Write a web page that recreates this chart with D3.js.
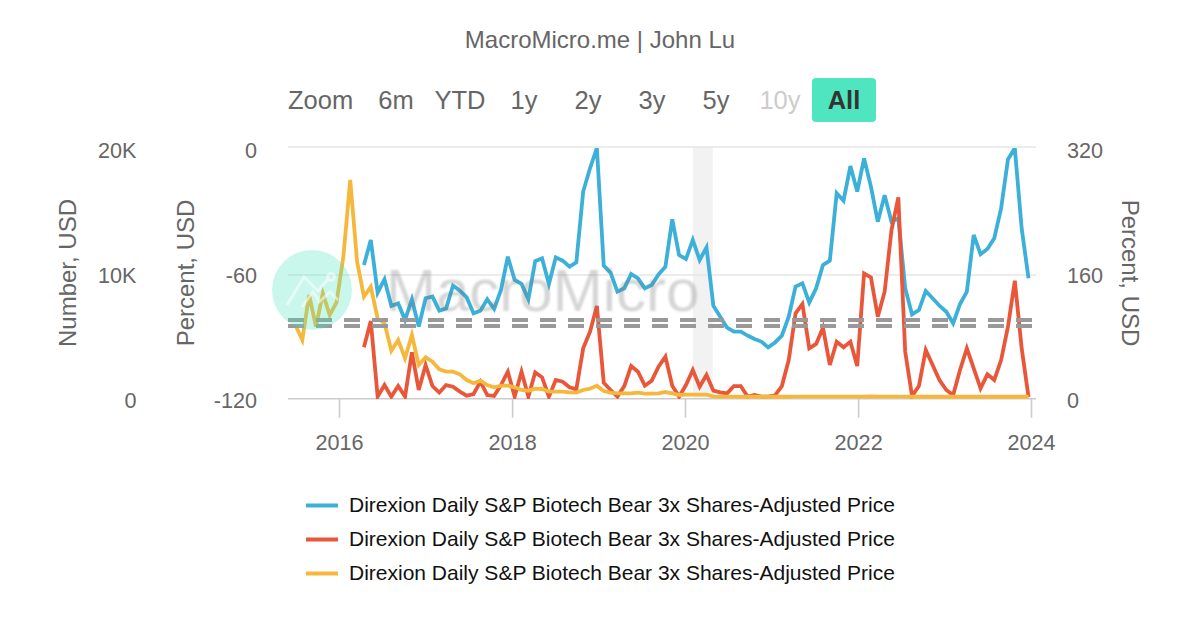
<!DOCTYPE html>
<html>
<head>
<meta charset="utf-8">
<script src="https://cdn.jsdelivr.net/npm/d3@7/dist/d3.min.js"></script>
<style>
html,body{margin:0;padding:0;background:#fff;}
svg{display:block;font-family:"Liberation Sans",Arial,sans-serif;}
</style>
</head>
<body>
<svg id="c" width="1200" height="630"></svg>
<script>
const titleText = "MacroMicro.me | John Lu";
const legendName = "Direxion Daily S&P Biotech Bear 3x Shares-Adjusted Price";
const buttons = ["6m","YTD","1y","2y","3y","5y","10y","All"];
const firstDate = new Date(2015,6,1);
const stepDays = 28.93;
const blueOffset = 10;   // blue and red start this many samples after yellow

const blueValues = [-56.4,-44.3,-69.7,-63.3,-76.1,-74.9,-82.9,-72.9,-86.1,-72.4,-71.6,-78.4,-77.3,-66.3,-68.8,-72.0,-79.7,-78.4,-72.9,-77.6,-68.4,-52.4,-63.6,-65.5,-72.9,-54.5,-53.2,-65.5,-52.7,-54.3,-57.2,-55.1,-21.0,-9.8,0,-56.7,-60.1,-69.2,-67.6,-60.7,-62.8,-67.6,-66.0,-60.9,-57.2,
-34.4,-51.6,-53.5,-44.3,-54.0,-47.9,-76.0,-81.3,-86.6,-88.5,-88.5,-90.4,-92.0,-93.3,-96.1,-93.7,-90.4,-81.3,-66.8,-65.2,-74.5,-67.6,-56.4,-54.3,-21.8,-25.4,-8.7,-21.0,-5.0,-18.6,-35.5,-22.7,-35.5,-33.9,-67.6,-80.2,-78.1,-68.9,-72.4,-76.0,-78.9,-84.5,-75.2,-69.2,-41.9,-51.2,-48.7,-43.5,-29.1,-5.5,0,-38.7,-62.8];

const redValues = [3990,6100,30,960,30,880,30,3590,560,2570,880,350,960,830,430,110,240,1230,160,80,960,2030,30,2030,30,1980,1580,30,1370,1230,780,620,3910,5250,7310,1150,560,30,880,2490,2030,910,1310,2440,3240,
910,30,960,2170,830,1770,510,370,290,880,880,30,160,30,30,130,880,2970,6720,7470,3910,4260,5570,2570,4440,3990,4440,2490,9930,9610,6450,8460,13410,16040,3640,80,880,3770,2570,1370,560,160,2170,3910,2300,700,1820,1370,2970,5650,9340,3910,0];

const yellowValues = [92.5,73.3,131.1,90.4,133.2,105.4,121.7,180.4,278.9,173.9,128.9,141.8,101.1,94.7,59.5,73.3,49.7,79.7,41.1,51.0,45.4,35.6,32.6,32.6,29.1,21.8,17.6,21.0,15.4,12.4,14.6,14.6,12.4,9.0,8.1,10.7,10.3,6.9,6.9,6.9,6.0,5.6,9.0,10.7,14.6,7.7,5.6,4.7,4.7,4.7,5.6,4.3,4.3,4.7,6.4,
4.7,2.6,3.0,3.0,3.0,3.0,0.9,0.4,0.5,0.4,0.3,0.3,0.4,0.3,0.3,0.3,0.3,0.3,0.4,0.4,0.4,0.4,0.4,0.4,0.4,0.5,0.5,0.6,0.6,0.7,0.6,0.5,0.4,0.4,0.4,0.3,0.3,0.3,0.3,0.3,0.3,0.3,0.3,0.3,0.3,0.3,0.3,0.3,0.3,0.3,0.3,0.3,0.3];

const numberTicks = [0,10000,20000];
const percentTicks = [-120,-60,0];
const priceTicks = [0,160,320];
const yearTicks = [2016,2018,2020,2022,2024];
const recession = [new Date(2020,1,4), new Date(2020,3,27)];
const plotLines = [-82.9,-85.8];

const colors = {blue:"#3cb0d9", red:"#e9573a", yellow:"#f6b83c"};
const textCol = "#666666";
const font = 21.6;

const svg = d3.select("#c");
const L=288, R=1036, T=148, B=397;

const dateOf = i => new Date(firstDate.getTime()+i*stepDays*864e5);
const x = d3.scaleTime().domain([new Date(2016,0,1),new Date(2024,0,1)]).range([339,1031]);
const yPercent = d3.scaleLinear().domain([-120,0]).range([B,T]);
const yNumber = d3.scaleLinear().domain([0,20000]).range([B,T]);
const yPrice = d3.scaleLinear().domain([0,320]).range([B,T]);
// gridlines and labels sit on the reference's own rows
const gridY = d3.scaleLinear().domain([0,1,2]).range([398.7,275,147]);
const labelY = d3.scaleLinear().domain([0,1,2]).range([400,275,150]);

svg.append("defs").append("clipPath").attr("id","plot").append("rect")
  .attr("x",L).attr("y",T).attr("width",R-L).attr("height",B-T+2);
const blur = svg.select("defs").append("filter").attr("id","soft");
blur.append("feGaussianBlur").attr("stdDeviation",0.9);

// title
svg.append("text").attr("x",600).attr("y",47.5).attr("text-anchor","middle")
  .attr("font-size",24).attr("fill",textCol).text(titleText);

// range selector
svg.append("text").attr("x",288).attr("y",109).attr("font-size",25.5).attr("fill",textCol).text("Zoom");
const btnX = d3.scalePoint().domain(buttons).range([396,844]);
svg.append("rect").attr("x",812).attr("y",78).attr("width",64).attr("height",44).attr("rx",4).attr("fill","#50e5c1");
svg.selectAll("text.btn").data(buttons).join("text").attr("class","btn")
  .attr("x",d=>btnX(d)).attr("y",109).attr("text-anchor","middle").attr("font-size",25.5)
  .attr("font-weight",d=>d==="All"?"bold":"normal")
  .attr("fill",d=>d==="All"?"#333333":d==="10y"?"#cccccc":textCol).text(d=>d);

// recession band
svg.append("rect").attr("x",x(recession[0])).attr("y",147).attr("width",x(recession[1])-x(recession[0])).attr("height",251).attr("fill","#f2f2f2");

// grid
svg.selectAll("line.g").data([0,1,2]).join("line").attr("class","g")
  .attr("x1",L).attr("x2",R).attr("y1",d=>gridY(d)).attr("y2",d=>gridY(d))
  .attr("stroke",d=>d===0?"#cccccc":"#e6e6e6").attr("stroke-width",1.6);

// x axis
const xAxis = d3.axisBottom(x).tickValues(yearTicks.map(y=>new Date(y,0,1))).tickSize(19).tickPadding(17).tickFormat(d3.timeFormat("%Y"));
const gx = svg.append("g").attr("transform","translate(0,398.7)").call(xAxis);
gx.select(".domain").remove();
gx.selectAll("line").attr("stroke","#cccccc").attr("stroke-width",1.6);
gx.selectAll("text").attr("font-size",font).attr("fill",textCol).attr("font-family","inherit");

// y labels
function yLabels(vals,xp,anchor,fmt){
  svg.append("g").selectAll("text").data(vals).join("text")
    .attr("x",xp).attr("y",(d,i)=>labelY(i)).attr("dy","0.36em").attr("text-anchor",anchor)
    .attr("font-size",font).attr("fill",textCol).text(fmt);
}
yLabels(numberTicks,136.5,"end",d=>d===0?"0":(d/1000)+"K");
yLabels(percentTicks,257,"end",d=>String(d));
yLabels(priceTicks,1067,"start",d=>String(d));

function axisTitle(t,xp,rot){
  svg.append("text").attr("transform",`translate(${xp},273) rotate(${rot})`).attr("text-anchor","middle")
    .attr("font-size",24).attr("fill",textCol).text(t);
}
axisTitle("Number, USD",76,-90);
axisTitle("Percent, USD",194,-90);
axisTitle("Percent, USD",1122,90);

// series
const plot = svg.append("g").attr("clip-path","url(#plot)");
function draw(values,offset,scale,color){
  const line = d3.line().x((d,i)=>x(dateOf(i+offset))).y(d=>scale(d));
  plot.append("path").attr("d",line(values)).attr("fill","none").attr("stroke",color)
    .attr("stroke-width",3.8).attr("stroke-linejoin","miter").attr("stroke-miterlimit",4);
}
draw(blueValues,blueOffset,yPercent,colors.blue);
draw(redValues,blueOffset,yNumber,colors.red);
draw(yellowValues,0,yPrice,colors.yellow);

// dashed plot lines
svg.selectAll("line.p").data(plotLines).join("line").attr("class","p")
  .attr("x1",L).attr("x2",R).attr("y1",d=>yPercent(d)).attr("y2",d=>yPercent(d))
  .attr("stroke","#999999").attr("stroke-width",4).attr("stroke-dasharray","16 12");

// watermark
const wm = svg.append("g");
wm.append("circle").attr("cx",312).attr("cy",290).attr("r",40).attr("fill","#50e5c0").attr("opacity",0.3);
const logo = wm.append("g").attr("fill","none").attr("stroke","#fff").attr("stroke-width",2.8).attr("opacity",0.55);
logo.append("polyline").attr("points","287,305 304,277 318,291 328,279");
logo.append("polyline").attr("points","302,307 313,292 320,302");
logo.append("polyline").attr("points","318,303 330,292 338,300");
logo.append("circle").attr("cx",331).attr("cy",277).attr("r",3.5);
wm.append("text").attr("x",386).attr("y",311).attr("font-size",60).attr("fill","#777777")
  .attr("opacity",0.3).attr("filter","url(#soft)").text("MacroMicro");

// legend
const legendY = d3.scalePoint().domain([0,1,2]).range([504.5,572.5]);
const lg = svg.append("g");
[colors.blue,colors.red,colors.yellow].forEach((c,i)=>{
  lg.append("line").attr("x1",306).attr("x2",338).attr("y1",legendY(i)+1).attr("y2",legendY(i)+1).attr("stroke",c).attr("stroke-width",4);
  lg.append("text").attr("x",349).attr("y",legendY(i)).attr("dy","0.36em").attr("font-size",21).attr("fill","#111111").text(legendName);
});
</script>
</body>
</html>
